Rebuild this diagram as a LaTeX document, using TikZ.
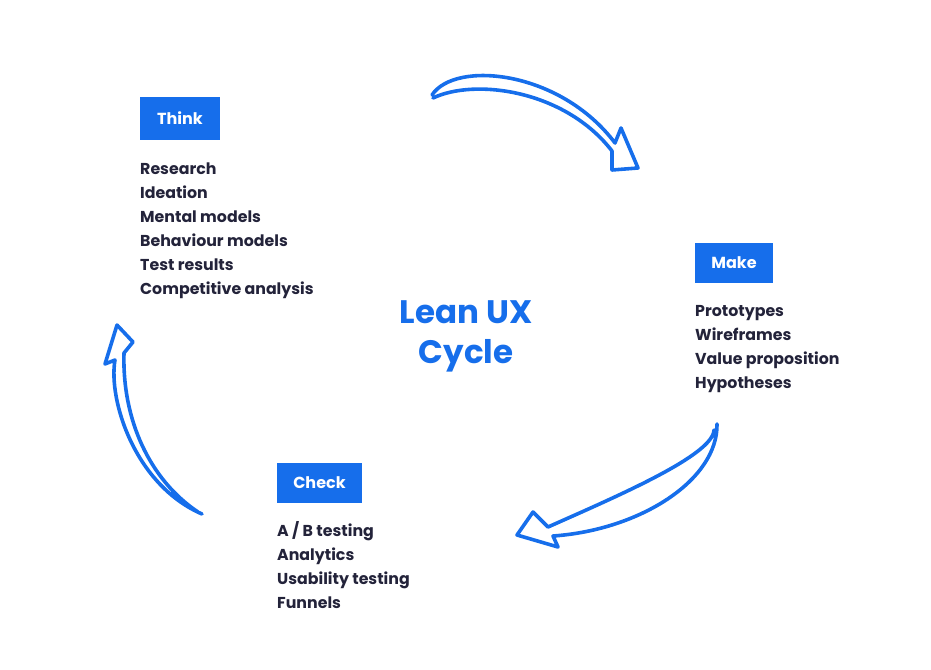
\documentclass[tikz,border=0pt]{standalone}
\usepackage{fontspec}
\setmainfont{Poppins}
\definecolor{uxblue}{RGB}{22,110,235}
\definecolor{uxtext}{RGB}{35,35,58}
\begin{document}
\begin{tikzpicture}[x=1pt,y=-1pt,
  phase/.style={fill=uxblue,text=white,font=\bfseries\fontsize{16}{18}\selectfont,inner sep=0pt},
  item/.style={text=uxtext,font=\bfseries\fontsize{15.8}{18}\selectfont,anchor=west,inner sep=0pt,text height=11pt,text depth=0pt},
  ttl/.style={text=uxblue,font=\bfseries\fontsize{32.5}{36}\selectfont,inner sep=0pt,text height=22pt,text depth=0pt},
  cyc/.style={draw=uxblue,line width=3.6pt,line join=round,line cap=round}]
\useasboundingbox (0,0) rectangle (931,669);
% phase boxes
\node[phase,minimum width=80pt,minimum height=43pt] (think) at (180,118.5) {Think};
\node[phase,minimum width=78pt,minimum height=40pt] (make) at (734,263) {Make};
\node[phase,minimum width=85pt,minimum height=40pt] (check) at (319.5,483) {Check};
% lists
\foreach \t [count=\i] in {Research,Ideation,Mental models,Behaviour models,Test results,Competitive analysis}
  \node[item] (think\i) at (140,{145+24*\i}) {\t};
\foreach \t [count=\i] in {Prototypes,Wireframes,Value proposition,Hypotheses}
  \node[item] (make\i) at (695,{287+24*\i}) {\t};
\foreach \t [count=\i] in {A / B testing,Analytics,Usability testing,Funnels}
  \node[item] (check\i) at (277,{507+24*\i}) {\t};
% title
\node[ttl] (lean) at (466,312) {Lean UX};
\node[ttl] (cycle) at (466,352) {Cycle};
% arrows
\draw[cyc] (432,95) .. controls (455,60) and (560,70) .. (615,143) -- (621,128) -- (638,168) -- (612,170) -- (612,151) .. controls (565,90) and (475,78) .. (433,98);
\draw[cyc] (717,424) .. controls (718,480) and (640,530) .. (553,536) -- (558,547) -- (517,535) -- (533,512) -- (548,527) .. controls (620,495) and (713,455) .. (714,430);
\draw[cyc] (202,514) .. controls (135,485) and (108,400) .. (115,360) -- (105,364) -- (117,325) -- (133,342) -- (124,353) .. controls (122,420) and (150,480) .. (198,512);
\end{tikzpicture}
\end{document}
